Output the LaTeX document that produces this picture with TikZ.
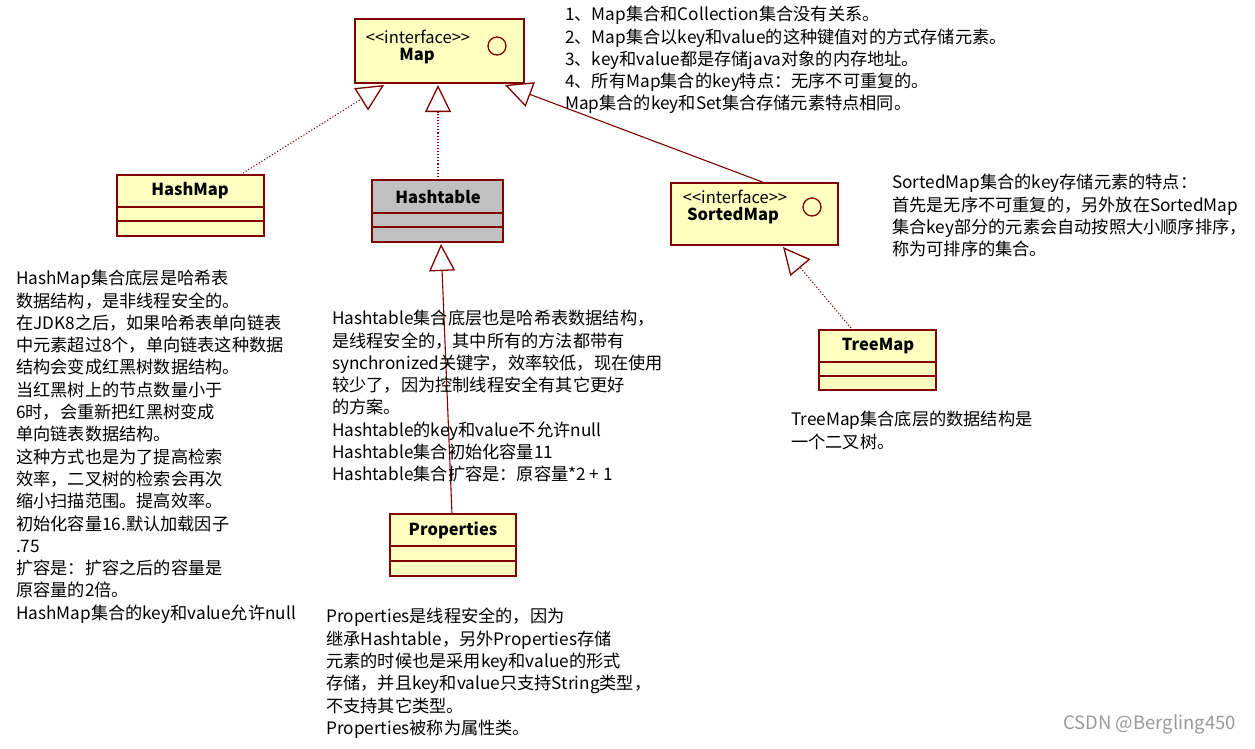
\documentclass[tikz,border=0pt]{standalone}
\usepackage{fontspec}
\setmainfont{Noto Sans CJK SC}
\usetikzlibrary{arrows.meta}
\definecolor{dr}{HTML}{800000}
\definecolor{by}{HTML}{FFFFC0}
\definecolor{gr}{HTML}{C0C0C0}
\begin{document}
\begin{tikzpicture}[x=1pt,y=-1pt,
  cls/.style={draw=dr,line width=1.6pt,fill=by},
  note/.style={anchor=north west,inner sep=0,align=left,font=\fontsize{17.2}{22.3}\selectfont},
  nm/.style={font=\fontsize{16.5}{16}\selectfont\bfseries,inner sep=0},
  st/.style={font=\fontsize{16.5}{16}\selectfont,inner sep=0},
  gen/.style={draw=dr,line width=1.1pt,-{Triangle[open,length=27pt,width=26pt,fill=white,line width=1.3pt]}},
  real/.style={gen,dotted}]
\useasboundingbox (0,0) rectangle (1255,748);
% boxes
\path[cls] (355,19) rectangle (524,83);
\node[st] (mapS) at (418,37) {{<}{<}interface{>}{>}};
\node[nm] (mapN) at (417,56) {Map};
\draw[dr,line width=1.3pt] (497,46) circle (9);
\path[cls] (117,175) rectangle (264,236);
\draw[dr,line width=1.6pt] (117,207)--(264,207) (117,221)--(264,221);
\node[nm] (hm) at (190,191) {HashMap};
\path[cls,fill=gr] (372,180) rectangle (503,242);
\draw[dr,line width=1.6pt] (372,213)--(503,213) (372,227)--(503,227);
\node[nm] (ht) at (438,197) {Hashtable};
\path[cls] (671,183) rectangle (838,245);
\node[st] (smS) at (735,197) {{<}{<}interface{>}{>}};
\node[nm] (smN) at (733,216) {SortedMap};
\draw[dr,line width=1.3pt] (812,207) circle (9);
\path[cls] (819,330) rectangle (936,390);
\draw[dr,line width=1.6pt] (819,362)--(936,362) (819,376)--(936,376);
\node[nm] (tm) at (878,346) {TreeMap};
\path[cls] (390,514) rectangle (516,576);
\draw[dr,line width=1.6pt] (390,546)--(516,546) (390,561)--(516,561);
\node[nm] (pr) at (453,530) {Properties};
% connectors
\coordinate (a1) at (243,173); \coordinate (b1) at (384,85);
\draw[real] (a1) -- (b1);
\coordinate (a2) at (438,180); \coordinate (b2) at (438,85);
\draw[real] (a2) -- (b2);
\coordinate (a3) at (765,183); \coordinate (b3) at (505,85);
\draw[gen] (a3) -- (b3);
\coordinate (a4) at (851,328); \coordinate (b4) at (783,247);
\draw[real] (a4) -- (b4);
\coordinate (a5) at (452,514); \coordinate (b5) at (441,244);
\draw[gen] (a5) -- (b5);
% notes
\node[note] (n1) at (565,6) {1、Map集合和Collection集合没有关系。\\2、Map集合以key和value的这种键值对的方式存储元素。\\3、key和value都是存储java对象的内存地址。\\4、所有Map集合的key特点：无序不可重复的。\\Map集合的key和Set集合存储元素特点相同。};
\node[note] (n2) at (892,174) {SortedMap集合的key存储元素的特点：\\首先是无序不可重复的，另外放在SortedMap\\集合key部分的元素会自动按照大小顺序排序，\\称为可排序的集合。};
\node[note] (n3) at (16,270) {HashMap集合底层是哈希表\\数据结构，是非线程安全的。\\在JDK8之后，如果哈希表单向链表\\中元素超过8个，单向链表这种数据\\结构会变成红黑树数据结构。\\当红黑树上的节点数量小于\\6时，会重新把红黑树变成\\单向链表数据结构。\\这种方式也是为了提高检索\\效率，二叉树的检索会再次\\缩小扫描范围。提高效率。\\初始化容量16.默认加载因子\\.75\\扩容是：扩容之后的容量是\\原容量的2倍。\\HashMap集合的key和value允许null};
\node[note] (n4) at (332,310) {Hashtable集合底层也是哈希表数据结构，\\是线程安全的，其中所有的方法都带有\\synchronized关键字，效率较低，现在使用\\较少了，因为控制线程安全有其它更好\\的方案。\\Hashtable的key和value不允许null\\Hashtable集合初始化容量11\\Hashtable集合扩容是：原容量*2 + 1};
\node[note] (n5) at (791,411) {TreeMap集合底层的数据结构是\\一个二叉树。};
\node[note] (n6) at (326,608) {Properties是线程安全的，因为\\继承Hashtable，另外Properties存储\\元素的时候也是采用key和value的形式\\存储，并且key和value只支持String类型，\\不支持其它类型。\\Properties被称为属性类。};
\node[note,text=gray!80,font=\fontsize{18.5}{20}\selectfont] (wm) at (1063,715) {CSDN @Bergling450};
\end{tikzpicture}
\end{document}
